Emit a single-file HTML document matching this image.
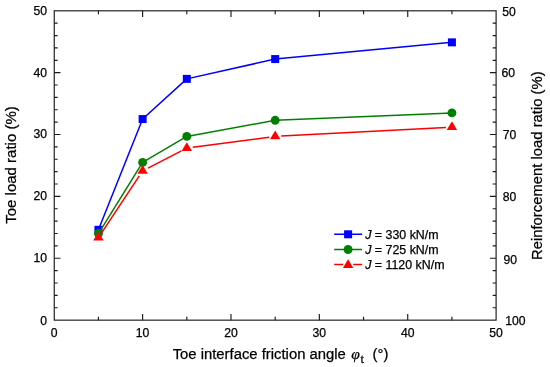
<!DOCTYPE html>
<html><head><meta charset="utf-8"><title>Toe load ratio chart</title>
<style>
html,body{margin:0;padding:0;background:#fff;}
svg{display:block;}
text{font-family:"Liberation Sans",Arial,sans-serif;fill:#000;stroke:#000;stroke-width:0.25px;}
.tk{font-size:12.2px;}
.ti{font-size:14.84px;}
.lg{font-size:12.4px;}
.se{font-family:"Liberation Serif","Times New Roman",serif;}
</style></head>
<body>
<svg width="550" height="367" viewBox="0 0 550 367">
<rect x="0" y="0" width="550" height="367" fill="#ffffff"/>
<rect x="54.25" y="10.8" width="441.85" height="309.35" fill="none" stroke="#1a1a1a" stroke-width="1.15"/>
<path d="M54.25 307.78h3.4M496.1 307.78h-3.4M54.25 295.40h3.4M496.1 295.40h-3.4M54.25 283.03h3.4M496.1 283.03h-3.4M54.25 270.65h3.4M496.1 270.65h-3.4M54.25 258.28h6.2M496.1 258.28h-6.2M54.25 245.91h3.4M496.1 245.91h-3.4M54.25 233.53h3.4M496.1 233.53h-3.4M54.25 221.16h3.4M496.1 221.16h-3.4M54.25 208.78h3.4M496.1 208.78h-3.4M54.25 196.41h6.2M496.1 196.41h-6.2M54.25 184.04h3.4M496.1 184.04h-3.4M54.25 171.66h3.4M496.1 171.66h-3.4M54.25 159.29h3.4M496.1 159.29h-3.4M54.25 146.91h3.4M496.1 146.91h-3.4M54.25 134.54h6.2M496.1 134.54h-6.2M54.25 122.17h3.4M496.1 122.17h-3.4M54.25 109.79h3.4M496.1 109.79h-3.4M54.25 97.42h3.4M496.1 97.42h-3.4M54.25 85.04h3.4M496.1 85.04h-3.4M54.25 72.67h6.2M496.1 72.67h-6.2M54.25 60.30h3.4M496.1 60.30h-3.4M54.25 47.92h3.4M496.1 47.92h-3.4M54.25 35.55h3.4M496.1 35.55h-3.4M54.25 23.17h3.4M496.1 23.17h-3.4M98.44 320.15v-3.4M98.44 10.8v3.4M142.62 320.15v-6.2M142.62 10.8v6.2M186.81 320.15v-3.4M186.81 10.8v3.4M230.99 320.15v-6.2M230.99 10.8v6.2M275.18 320.15v-3.4M275.18 10.8v3.4M319.36 320.15v-6.2M319.36 10.8v6.2M363.55 320.15v-3.4M363.55 10.8v3.4M407.73 320.15v-6.2M407.73 10.8v6.2M451.92 320.15v-3.4M451.92 10.8v3.4" fill="none" stroke="#1a1a1a" stroke-width="1.15"/>
<text class="tk" x="47.15" y="324.50" text-anchor="end">0</text>
<text class="tk" x="505.30" y="324.60">100</text>
<text class="tk" x="54.25" y="336.80" text-anchor="middle">0</text>
<text class="tk" x="47.15" y="261.93" text-anchor="end">10</text>
<text class="tk" x="503.50" y="264.03">90</text>
<text class="tk" x="142.62" y="336.80" text-anchor="middle">10</text>
<text class="tk" x="47.15" y="200.06" text-anchor="end">20</text>
<text class="tk" x="502.70" y="200.86">80</text>
<text class="tk" x="230.99" y="336.80" text-anchor="middle">20</text>
<text class="tk" x="47.15" y="138.19" text-anchor="end">30</text>
<text class="tk" x="502.70" y="138.99">70</text>
<text class="tk" x="319.36" y="336.80" text-anchor="middle">30</text>
<text class="tk" x="47.15" y="76.72" text-anchor="end">40</text>
<text class="tk" x="501.50" y="77.12">60</text>
<text class="tk" x="407.73" y="336.80" text-anchor="middle">40</text>
<text class="tk" x="47.15" y="14.95" text-anchor="end">50</text>
<text class="tk" x="502.20" y="15.80">50</text>
<text class="tk" x="496.10" y="336.80" text-anchor="middle">50</text>
<text class="ti" style="font-size:15px" transform="translate(15.9,165) rotate(-90)" text-anchor="middle">Toe load ratio (%)</text>
<text class="ti" transform="translate(542.3,165.7) rotate(-90)" text-anchor="middle">Reinforcement load ratio (%)</text>
<text class="ti" x="172.7" y="358.9">Toe interface friction angle</text>
<text class="se" x="351.3" y="358.9" font-style="italic" font-size="15.5px">φ</text>
<text class="se" x="360.6" y="362.8" font-size="12.5px">t</text>
<text class="ti" x="372.6" y="358.9">(°)</text>
<g><path d="M98.44 229.82L142.62 119.07M142.62 119.07L186.81 78.86M186.81 78.86L275.18 59.06M275.18 59.06L451.92 42.35" fill="none" stroke="#0000ff" stroke-width="1.5"/>
<rect x="94.44" y="225.82" width="8.0" height="8.0" fill="#0000ff"/>
<rect x="138.62" y="115.07" width="8.0" height="8.0" fill="#0000ff"/>
<rect x="182.81" y="74.86" width="8.0" height="8.0" fill="#0000ff"/>
<rect x="271.18" y="55.06" width="8.0" height="8.0" fill="#0000ff"/>
<rect x="447.92" y="38.35" width="8.0" height="8.0" fill="#0000ff"/>
</g>
<g><path d="M98.44 233.53L142.62 162.38M142.62 162.38L186.81 136.40M186.81 136.40L275.18 120.31M275.18 120.31L451.92 112.89" fill="none" stroke="#008000" stroke-width="1.5"/>
<circle cx="98.44" cy="233.53" r="4.45" fill="#008000"/>
<circle cx="142.62" cy="162.38" r="4.45" fill="#008000"/>
<circle cx="186.81" cy="136.40" r="4.45" fill="#008000"/>
<circle cx="275.18" cy="120.31" r="4.45" fill="#008000"/>
<circle cx="451.92" cy="112.89" r="4.45" fill="#008000"/>
</g>
<g><path d="M101.75 232.55L139.31 175.80M147.96 168.06L181.47 150.89M192.75 147.36L269.23 137.19M281.17 136.08L445.92 127.43" fill="none" stroke="#ff0000" stroke-width="1.5"/>
<path d="M93.23 240.49L103.64 240.49L98.44 231.69Z" fill="#ff0000"/>
<path d="M137.42 173.73L147.82 173.73L142.62 164.93Z" fill="#ff0000"/>
<path d="M181.61 151.08L192.00 151.08L186.81 142.28Z" fill="#ff0000"/>
<path d="M269.98 139.33L280.38 139.33L275.18 130.53Z" fill="#ff0000"/>
<path d="M446.72 130.05L457.12 130.05L451.92 121.25Z" fill="#ff0000"/>
</g>
<path d="M334.2 234.3H348.10M348.10 234.3H362.1" fill="none" stroke="#0000ff" stroke-width="1.5"/>
<rect x="344.10" y="230.30" width="8.0" height="8.0" fill="#0000ff"/>
<text class="lg" x="365.2" y="238.60"><tspan font-style="italic">J</tspan> = 330 kN/m</text>
<path d="M334.2 249.5H348.10M348.10 249.5H362.1" fill="none" stroke="#008000" stroke-width="1.5"/>
<circle cx="348.10" cy="249.50" r="4.45" fill="#008000"/>
<text class="lg" x="365.2" y="253.80"><tspan font-style="italic">J</tspan> = 725 kN/m</text>
<path d="M334.2 264.6H343.00M353.20 264.6H362.1" fill="none" stroke="#ff0000" stroke-width="1.5"/>
<path d="M342.90 267.93L353.30 267.93L348.10 259.13Z" fill="#ff0000"/>
<text class="lg" x="365.2" y="268.90"><tspan font-style="italic">J</tspan> = 1120 kN/m</text>
</svg>
</body></html>
